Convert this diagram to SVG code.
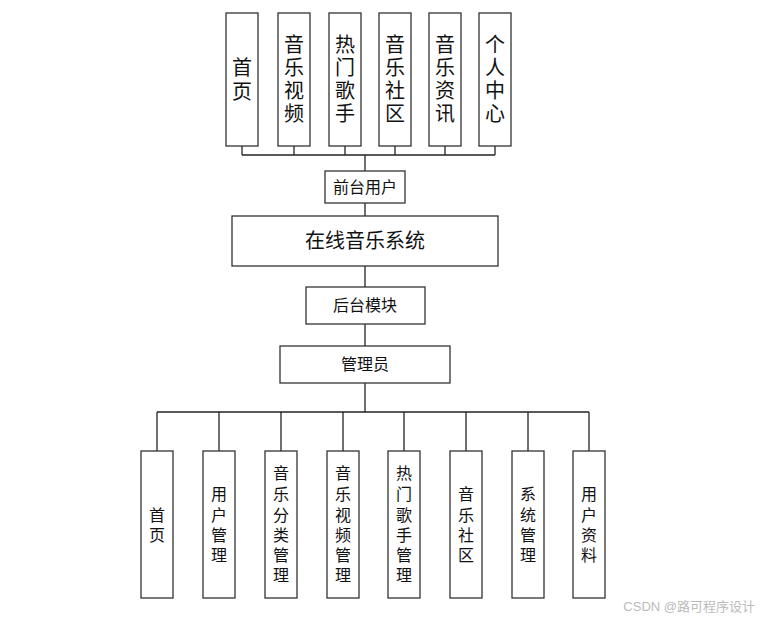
<svg xmlns="http://www.w3.org/2000/svg" width="761" height="619" viewBox="0 0 761 619">
<style>
rect{fill:#fff;stroke:#333;stroke-width:1.3}
.c line{stroke:#222;stroke-width:1.3}
.t{font-family:"Liberation Serif","Noto Sans CJK SC",serif;font-size:20px;fill:#111;text-anchor:middle}
.s{font-family:"Liberation Sans","Noto Sans CJK SC",sans-serif;font-size:16px;fill:#111;text-anchor:middle}
</style>
<rect x="0" y="0" width="761" height="619" style="fill:#fff;stroke:none"/>
<g class="c">
<line x1="242" y1="146" x2="242" y2="155"/><line x1="294" y1="146" x2="294" y2="155"/><line x1="345" y1="146" x2="345" y2="155"/><line x1="395" y1="146" x2="395" y2="155"/><line x1="445" y1="146" x2="445" y2="155"/><line x1="495" y1="146" x2="495" y2="155"/>
<line x1="242" y1="155" x2="495" y2="155"/>
<line x1="365" y1="155" x2="365" y2="171"/><line x1="365" y1="203" x2="365" y2="216"/><line x1="365" y1="266" x2="365" y2="287"/><line x1="365" y1="324" x2="365" y2="346"/><line x1="365" y1="383" x2="365" y2="412"/>
<line x1="157" y1="412" x2="589" y2="412"/>
<line x1="157" y1="412" x2="157" y2="451"/><line x1="219" y1="412" x2="219" y2="451"/><line x1="281" y1="412" x2="281" y2="451"/><line x1="343" y1="412" x2="343" y2="451"/><line x1="404" y1="412" x2="404" y2="451"/><line x1="466" y1="412" x2="466" y2="451"/><line x1="528" y1="412" x2="528" y2="451"/><line x1="589" y1="412" x2="589" y2="451"/>
</g>
<g id="t1"><rect x="226" y="13" width="32" height="133"/><text class="t" x="242" y="75">首</text><text class="t" x="242" y="99">页</text></g>
<g id="t2"><rect x="278" y="13" width="32" height="133"/><text class="t" x="294" y="52">音</text><text class="t" x="294" y="75">乐</text><text class="t" x="294" y="98">视</text><text class="t" x="294" y="121">频</text></g>
<g id="t3"><rect x="329" y="13" width="32" height="133"/><text class="t" x="345" y="52">热</text><text class="t" x="345" y="75">门</text><text class="t" x="345" y="98">歌</text><text class="t" x="345" y="121">手</text></g>
<g id="t4"><rect x="379" y="13" width="32" height="133"/><text class="t" x="395" y="52">音</text><text class="t" x="395" y="75">乐</text><text class="t" x="395" y="98">社</text><text class="t" x="395" y="121">区</text></g>
<g id="t5"><rect x="429" y="13" width="32" height="133"/><text class="t" x="445" y="52">音</text><text class="t" x="445" y="75">乐</text><text class="t" x="445" y="98">资</text><text class="t" x="445" y="121">讯</text></g>
<g id="t6"><rect x="479" y="13" width="32" height="133"/><text class="t" x="495" y="52">个</text><text class="t" x="495" y="75">人</text><text class="t" x="495" y="98">中</text><text class="t" x="495" y="121">心</text></g>
<g id="front"><rect x="325" y="171" width="80" height="32"/><text class="s" x="365" y="193">前台用户</text></g>
<g id="sys"><rect x="232" y="216" width="266" height="50"/><text class="t" x="365" y="248">在线音乐系统</text></g>
<g id="back"><rect x="306" y="287" width="119" height="37"/><text class="s" x="365" y="311">后台模块</text></g>
<g id="admin"><rect x="280" y="346" width="170" height="37"/><text class="s" x="365" y="370">管理员</text></g>
<g id="b1"><rect x="141" y="451" width="32" height="147"/><text class="s" x="157" y="521">首</text><text class="s" x="157" y="541">页</text></g>
<g id="b2"><rect x="203" y="451" width="32" height="147"/><text class="s" x="219" y="500">用</text><text class="s" x="219" y="521">户</text><text class="s" x="219" y="541">管</text><text class="s" x="219" y="561">理</text></g>
<g id="b3"><rect x="265" y="451" width="32" height="147"/><text class="s" x="281" y="479">音</text><text class="s" x="281" y="500">乐</text><text class="s" x="281" y="521">分</text><text class="s" x="281" y="541">类</text><text class="s" x="281" y="561">管</text><text class="s" x="281" y="581">理</text></g>
<g id="b4"><rect x="327" y="451" width="32" height="147"/><text class="s" x="343" y="479">音</text><text class="s" x="343" y="500">乐</text><text class="s" x="343" y="521">视</text><text class="s" x="343" y="541">频</text><text class="s" x="343" y="561">管</text><text class="s" x="343" y="581">理</text></g>
<g id="b5"><rect x="388" y="451" width="32" height="147"/><text class="s" x="404" y="479">热</text><text class="s" x="404" y="500">门</text><text class="s" x="404" y="521">歌</text><text class="s" x="404" y="541">手</text><text class="s" x="404" y="561">管</text><text class="s" x="404" y="581">理</text></g>
<g id="b6"><rect x="450" y="451" width="32" height="147"/><text class="s" x="466" y="500">音</text><text class="s" x="466" y="521">乐</text><text class="s" x="466" y="541">社</text><text class="s" x="466" y="561">区</text></g>
<g id="b7"><rect x="512" y="451" width="32" height="147"/><text class="s" x="528" y="500">系</text><text class="s" x="528" y="521">统</text><text class="s" x="528" y="541">管</text><text class="s" x="528" y="561">理</text></g>
<g id="b8"><rect x="573" y="451" width="32" height="147"/><text class="s" x="589" y="500">用</text><text class="s" x="589" y="521">户</text><text class="s" x="589" y="541">资</text><text class="s" x="589" y="561">料</text></g>
<text x="755" y="611" style="font-family:'Liberation Sans','Noto Sans CJK SC',sans-serif;font-size:13px;fill:#bbb;text-anchor:end">CSDN @路可程序设计</text>
</svg>
